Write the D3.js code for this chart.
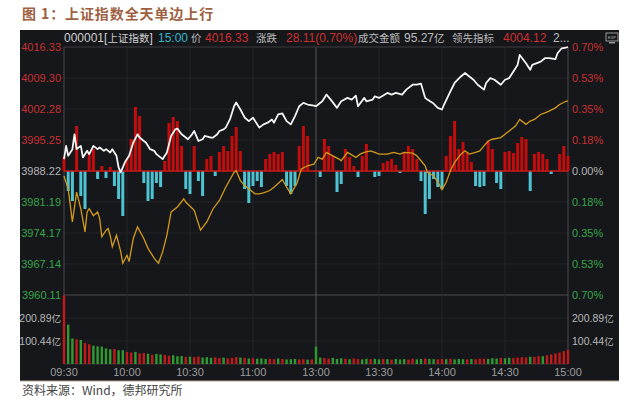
<!DOCTYPE html>
<html><head><meta charset="utf-8">
<script src="https://cdn.jsdelivr.net/npm/d3@7"></script>
<style>body{margin:0;background:#fff;} svg{display:block;}</style>
</head><body><svg id="c" width="640" height="406"></svg>
<script>
// ---------- data ----------
const prevClose = 3988.22;
const priceTicks = [4016.33, 4009.30, 4002.28, 3995.25, 3988.22, 3981.19, 3974.17, 3967.14, 3960.11];
const pctTicks = ["0.70%", "0.53%", "0.35%", "0.18%", "0.00%", "0.18%", "0.35%", "0.53%", "0.70%"];
const timeTicks = ["09:30", "10:00", "10:30", "11:00", "13:00", "13:30", "14:00", "14:30", "15:00"];
const timeTickMin = [0, 30, 60, 90, 120, 150, 180, 210, 240];
const volTicks = [200.89, 100.44];
const volMax = 301.33;

// index price (minute offset from 09:30 in trading minutes)
const priceMin = [0,1,2,4,5,6,8,9,11,12,14,16,17,19,20,22,23,25,26,27,29,31,33,35,36,38,39,41,43,44,47,49,51,53,54,56,58,59,61,62,64,66,67,70,71,73,74,76,77,79,81,82,84,86,88,90,93,95,97,99,100,102,104,106,108,110,112,114,116,119,120,123,125,127,130,132,135,137,139,140,143,144,147,148,150,154,156,158,161,163,166,168,170,172,173,176,178,180,181,184,186,189,191,193,195,197,200,201,203,205,208,210,212,214,216,217,220,222,223,227,229,231,234,235,237,239,240];
const priceVal = [3990.92,3993.91,3991.66,3993.17,3996.54,3993.17,3993.91,3991.30,3992.79,3992.04,3993.91,3993.17,3993.55,3992.79,3993.17,3992.43,3993.17,3991.66,3989.05,3987.93,3990.18,3991.66,3994.67,3996.54,3995.80,3995.03,3994.67,3993.17,3992.79,3992.04,3990.92,3992.43,3996.16,3997.66,3997.82,3996.54,3995.80,3995.42,3996.54,3997.28,3995.03,3995.42,3996.16,3995.80,3995.80,3996.54,3997.28,3997.66,3998.05,3999.91,4002.90,4003.74,4002.16,4000.36,3999.53,4000.30,3998.05,3998.79,3999.17,3999.91,3999.17,4001.04,4001.26,3999.53,3998.79,4000.66,4002.90,4003.67,4003.29,4003.06,4002.90,4004.03,4005.54,4004.41,4002.54,4004.03,4004.79,4004.41,4005.31,4002.90,4004.79,4004.03,4004.41,4005.15,4004.79,4005.92,4005.54,4005.92,4005.54,4006.66,4007.78,4007.78,4008.01,4004.79,4004.41,4003.51,4002.54,4002.16,4003.29,4006.28,4008.17,4009.65,4010.42,4009.65,4008.91,4007.78,4006.66,4008.17,4009.29,4008.91,4007.78,4008.91,4009.29,4010.77,4012.28,4014.53,4012.66,4011.16,4012.28,4013.02,4013.79,4013.79,4013.56,4014.91,4016.04,4016.20,4016.33];

// leading indicator
const leadMin = [0,2,4,6,8,10,11,12,14,16,17,18,20,21,22,23,25,27,28,30,31,33,35,38,40,43,45,47,49,51,54,57,58,62,65,68,71,74,77,81,82,84,86,89,91,93,95,98,100,104,106,108,111,113,116,119,121,123,125,128,131,132,135,139,141,143,146,148,150,154,157,160,162,166,168,170,172,173,176,178,180,182,184,186,189,191,193,196,198,200,202,204,208,210,212,215,217,220,222,224,227,229,231,234,236,239,240];
const leadVal = [3987.10,3984.17,3976.68,3983.43,3979.67,3974.43,3978.93,3979.67,3978.10,3978.93,3977.43,3973.31,3974.73,3975.18,3973.60,3971.06,3973.67,3969.94,3967.31,3969.11,3967.69,3972.93,3975.56,3972.93,3970.68,3968.43,3967.31,3969.94,3973.67,3978.93,3980.06,3981.92,3981.18,3979.29,3974.80,3976.68,3979.67,3981.54,3984.55,3987.93,3988.29,3986.04,3984.91,3983.79,3983.05,3983.05,3983.27,3983.79,3984.55,3986.31,3984.55,3983.05,3985.50,3988.67,3989.41,3989.79,3991.30,3990.92,3992.43,3991.66,3990.92,3990.54,3992.43,3991.30,3992.04,3992.43,3992.79,3992.43,3992.04,3992.04,3992.43,3992.04,3992.43,3992.27,3991.66,3990.54,3989.41,3987.93,3987.16,3985.68,3984.01,3985.68,3988.29,3990.18,3992.04,3992.79,3992.04,3992.43,3992.79,3993.91,3995.03,3995.42,3995.80,3996.54,3997.28,3998.41,3999.91,3998.79,3999.53,3999.91,4001.04,4001.42,4001.78,4002.54,4003.29,4004.03,4004.12];

// buy/sell power bars, one per 2 trading minutes (relative units)
const flowVal = [14,-20,-30,45,-25,-38,18,22,-8,5,-7,4,-15,-28,-45,12,32,64,55,-12,-30,-28,-12,-16,10,48,54,50,25,-18,-23,25,-10,-25,12,15,-5,19,25,20,35,44,20,-18,-32,-15,-10,-16,12,17,19,17,19,-15,-23,-15,25,45,35,0,0,-6,32,25,15,-21,-13,22,14,5,-6,15,27,0,-6,-5,8,10,12,6,-2,18,25,22,12,-10,-43,-28,-8,-16,-18,15,35,50,22,29,19,9,-15,-16,-15,30,22,-12,-18,19,20,18,28,34,32,-20,17,19,17,12,-3,0,17,25,15];

// turnover (亿元) per 2 trading minutes, and direction (r = up, g = down)
const volVal = [300,172,112,108,105,92,86,80,77,76,68,64,66,60,60,53,50,53,46,48,45,40,44,42,40,36,38,34,35,31,32,30,33,28,30,27,29,26,28,25,27,30,28,26,24,25,23,24,22,23,21,24,22,20,21,22,20,21,19,20,76,28,26,24,27,22,25,23,21,24,22,20,23,21,22,20,22,21,19,22,20,21,19,23,20,22,24,22,21,20,22,21,23,20,22,21,20,22,21,24,23,22,25,24,26,25,27,26,28,30,29,32,31,35,34,38,42,46,50,56,62];
const volDir = "rggrgrrgggggrggrrgrrgrggrrgggrgrrgggrrgrrrgrgrgggrrgrgggrrgrggrrgggrgrrggrggrgrgggrrggrggrrgrgggrgrrrgggrggrrrrgrrgrrrrrr";

// header segments: [text, colour, x]
const headerItems = [
  ["000001[上证指数]", "#cfcfcf", 64],
  ["15:00", "#38b6c9", 158],
  ["价", "#bdbdbd", 191],
  ["4016.33", "#d0302e", 205],
  ["涨跌", "#bdbdbd", 256],
  ["28.11(0.70%)", "#d0302e", 286],
  ["成交金额", "#bdbdbd", 358],
  ["95.27亿", "#bdbdbd", 404],
  ["领先指标", "#bdbdbd", 452],
  ["4004.12", "#d0302e", 503],
  ["2...", "#bdbdbd", 553]
];

// ---------- drawing ----------
const svg = d3.select("#c");
const FONT = "'Liberation Sans','Noto Sans CJK SC',sans-serif";
const CJK = "'Noto Sans CJK SC',sans-serif";
const L = 64, R = 568, T = 47, PB = 295, VB = 364;
const isCJK = ch => /[\u3000-\u9fff\uff00-\uffef]/.test(ch);

// write text splitting latin/CJK runs into tspans of different sizes
function mixedText(sel, str, latinSize, cjkSize) {
  const runs = [];
  for (const ch of str) {
    const c = isCJK(ch);
    if (runs.length && runs[runs.length - 1].c === c) runs[runs.length - 1].t += ch;
    else runs.push({ c, t: ch });
  }
  runs.forEach(r => sel.append("tspan").attr("font-family", r.c ? CJK : FONT)
    .attr("font-size", r.c ? cjkSize : latinSize).text(r.t));
  return sel;
}

svg.append("text").attr("x", 22).attr("y", 19)
  .attr("font-family", CJK).attr("font-size", 14).attr("font-weight", "bold")
  .attr("letter-spacing", 0.9).attr("fill", "#9e5f42").text("图 1：上证指数全天单边上行");

svg.append("rect").attr("x", 20).attr("y", 30).attr("width", 599).attr("height", 351).attr("fill", "#16171b");
svg.append("line").attr("x1", 20).attr("x2", 619).attr("y1", 381).attr("y2", 381).attr("stroke", "#b9a58c").attr("stroke-width", 1);

const x = d3.scaleLinear().domain([0, 240]).range([L, R]);
const y = d3.scaleLinear().domain([3960.11, 4016.33]).range([PB, T]);
const y0 = y(prevClose);
const yb = d3.scaleLinear().domain([0, 100]).range([y0, y0 - 100]);
const yv = d3.scaleLinear().domain([0, volMax]).range([VB, PB]);

// grid
const g = svg.append("g");
priceTicks.forEach(v => {
  g.append("line").attr("x1", L).attr("x2", R).attr("y1", y(v)).attr("y2", y(v))
    .attr("stroke", v === 3960.11 ? "#4a4b50" : "#222328").attr("stroke-width", 1);
});
volTicks.forEach(v => {
  g.append("line").attr("x1", L).attr("x2", R).attr("y1", yv(v)).attr("y2", yv(v)).attr("stroke", "#222328");
});
timeTickMin.forEach(m => {
  g.append("line").attr("x1", x(m)).attr("x2", x(m)).attr("y1", T).attr("y2", VB)
    .attr("stroke", m === 120 ? "#55565b" : (m === 0 || m === 240 ? "#4a4b50" : "#24252a")).attr("stroke-width", 1);
});
g.append("line").attr("x1", L).attr("x2", R).attr("y1", T).attr("y2", T).attr("stroke", "#34353a");
g.append("line").attr("x1", L).attr("x2", R).attr("y1", VB).attr("y2", VB).attr("stroke", "#34353a");

// flow bars
const bw = 3;
svg.append("g").selectAll("rect").data(flowVal).join("rect")
  .attr("x", (d, i) => x(i * 2) - bw / 2)
  .attr("width", bw)
  .attr("y", d => d >= 0 ? yb(d) : y0)
  .attr("height", d => Math.abs(yb(d) - y0))
  .attr("fill", d => d >= 0 ? "#c30d0d" : "#4ec4d3");

svg.append("line").attr("x1", L).attr("x2", R).attr("y1", y0).attr("y2", y0).attr("stroke", "#c81818").attr("stroke-width", 1.5);

// volume bars
svg.append("g").selectAll("rect").data(volVal).join("rect")
  .attr("x", (d, i) => x(i * 2) - 1.2)
  .attr("width", 2.4)
  .attr("y", d => Math.max(yv(d), PB))
  .attr("height", d => VB - Math.max(yv(d), PB))
  .attr("fill", (d, i) => volDir[i] === "r" ? "#c21a1a" : "#2f9a30");

// lines
const lead = leadMin.map((m, i) => [m, leadVal[i]]);
const price = priceMin.map((m, i) => [m, priceVal[i]]);
const line = d3.line().x(d => x(d[0])).y(d => y(d[1]));
svg.append("path").attr("d", line(lead)).attr("fill", "none").attr("stroke", "#d29a1c").attr("stroke-width", 1.3);
svg.append("path").attr("d", line(price)).attr("fill", "none").attr("stroke", "#f4f4f4").attr("stroke-width", 1.8).attr("stroke-linejoin", "round");

// left/right axis labels
priceTicks.forEach((v, i) => {
  const col = v > prevClose ? "#c93030" : (v < prevClose ? "#36a64a" : "#b5b5b5");
  svg.append("text").attr("x", 61).attr("y", y(v) + 4).attr("text-anchor", "end")
    .attr("font-family", FONT).attr("font-size", 11).attr("fill", col).text(v.toFixed(2));
  svg.append("text").attr("x", 572).attr("y", y(v) + 4)
    .attr("font-family", FONT).attr("font-size", 11).attr("fill", col).text(pctTicks[i]);
});
volTicks.forEach(v => {
  mixedText(svg.append("text").attr("x", 61).attr("y", yv(v) + 4).attr("text-anchor", "end")
    .attr("fill", "#b8b8b8"), v.toFixed(2) + "亿", 10.5, 9.5);
  mixedText(svg.append("text").attr("x", 572).attr("y", yv(v) + 4)
    .attr("fill", "#b8b8b8"), v.toFixed(2) + "亿", 10.5, 9.5);
});
timeTicks.forEach((t, i) => {
  svg.append("text").attr("x", x(timeTickMin[i])).attr("y", 376).attr("text-anchor", "middle")
    .attr("font-family", FONT).attr("font-size", 11).attr("fill", "#9d9d9d").text(t);
});

// header
headerItems.forEach(([t, c, px]) => {
  mixedText(svg.append("text").attr("x", px).attr("y", 42).attr("fill", c), t, 12, 10.5);
});
// small icon
const ic = svg.append("g").attr("transform", "translate(606,33)");
ic.append("rect").attr("width", 12).attr("height", 8).attr("fill", "none").attr("stroke", "#9a9a9a").attr("stroke-width", 1);
ic.append("rect").attr("x", 3).attr("y", 9).attr("width", 6).attr("height", 1.5).attr("fill", "#9a9a9a");
ic.append("text").attr("x", 6).attr("y", 6).attr("text-anchor", "middle").attr("font-size", 4).attr("fill", "#bbb").attr("font-family", FONT).text("EXP");

// source
svg.append("text").attr("x", 22).attr("y", 395)
  .attr("font-family", CJK).attr("font-size", 12).attr("fill", "#444").text("资料来源：Wind，德邦研究所");
</script></body></html>
